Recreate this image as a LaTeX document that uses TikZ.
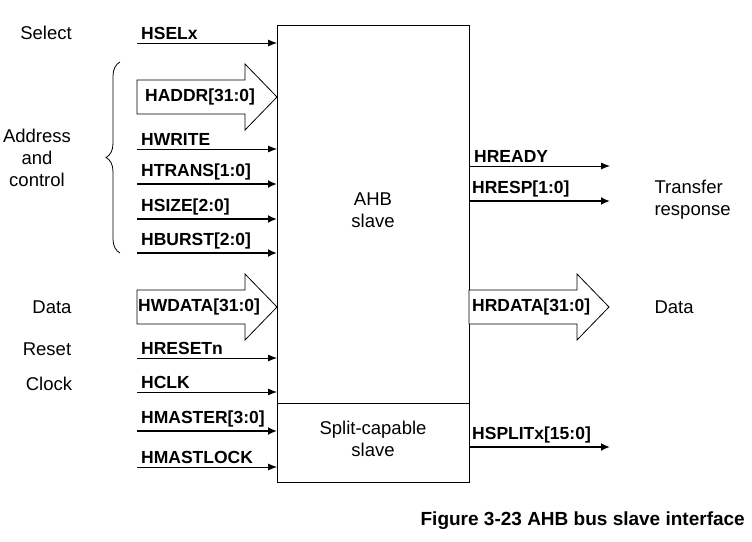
\documentclass[tikz,border=0pt]{standalone}
\usepackage{fontspec}
\setmainfont{Liberation Sans}
\usetikzlibrary{arrows.meta,decorations.pathreplacing}
\begin{document}
\begin{tikzpicture}[x=1pt,y=-1pt,
  thin sig/.style={line width=0.8pt,-{Latex[length=9pt,width=7pt]}},
  thick sig/.style={line width=2.6pt,-{Latex[length=9pt,width=8pt]}},
  sig/.style={font=\bfseries\fontsize{17.5}{20}\selectfont,anchor=south west,inner sep=1pt},
  lab/.style={font=\fontsize{18.5}{22}\selectfont,align=center},
  blk/.style={draw,line width=0.8pt,fill=white}]
\useasboundingbox (0,0) rectangle (752,541);
\node[draw,line width=0.8pt,minimum width=192pt,minimum height=457pt,anchor=north west,inner sep=0] (box) at (277,25) {};
\draw[line width=0.8pt] (277,403) -- (469,403);
\node[lab] (ahb) at (373,210) {AHB\\slave};
\node[lab] (split) at (373,439) {Split-capable\\slave};
% block arrows
\draw[blk] (137,80) -- (245,80) -- (245,64) -- (277,97) -- (245,130) -- (245,114) -- (137,114) -- cycle;
\draw[blk] (137,290) -- (245,290) -- (245,274) -- (277,307) -- (245,340) -- (245,324) -- (137,324) -- cycle;
\draw[blk] (469,290) -- (577,290) -- (577,274) -- (609,307) -- (577,340) -- (577,324) -- (469,324) -- cycle;
\node[sig,anchor=west] (haddr) at (144,97) {HADDR[31:0]};
\node[sig,anchor=west] (hwdata) at (137,307) {HWDATA[31:0]};
\node[sig,anchor=west] (hrdata) at (471,307) {HRDATA[31:0]};
% left signals
\coordinate (s1) at (137,43); \coordinate (e1) at (277,43);
\draw[thin sig] (s1) -- (e1); \node[sig] (hsel) at (140,41) {HSELx};
\coordinate (s2) at (137,149); \coordinate (e2) at (277,149);
\draw[thin sig] (s2) -- (e2); \node[sig] (hwrite) at (140,147) {HWRITE};
\coordinate (s3) at (137,184); \coordinate (e3) at (277,184);
\draw[thick sig] (s3) -- (e3); \node[sig] (htrans) at (140,181) {HTRANS[1:0]};
\coordinate (s4) at (137,219); \coordinate (e4) at (277,219);
\draw[thick sig] (s4) -- (e4); \node[sig] (hsize) at (140,216) {HSIZE[2:0]};
\coordinate (s5) at (137,253); \coordinate (e5) at (277,253);
\draw[thick sig] (s5) -- (e5); \node[sig] (hburst) at (140,250) {HBURST[2:0]};
\coordinate (s6) at (137,358); \coordinate (e6) at (277,358);
\draw[thin sig] (s6) -- (e6); \node[sig] (hreset) at (140,356) {HRESETn};
\coordinate (s7) at (137,392); \coordinate (e7) at (277,392);
\draw[thin sig] (s7) -- (e7); \node[sig] (hclk) at (140,390) {HCLK};
\coordinate (s8) at (137,431); \coordinate (e8) at (277,431);
\draw[thick sig] (s8) -- (e8); \node[sig] (hmaster) at (140,428) {HMASTER[3:0]};
\coordinate (s9) at (137,467); \coordinate (e9) at (277,467);
\draw[thin sig] (s9) -- (e9); \node[sig] (hmastlock) at (140,465) {HMASTLOCK};
% right signals
\coordinate (r1) at (469,166); \coordinate (f1) at (610,166);
\draw[thin sig] (r1) -- (f1); \node[sig] (hready) at (473,164) {HREADY};
\coordinate (r2) at (469,201); \coordinate (f2) at (610,201);
\draw[thick sig] (r2) -- (f2); \node[sig] (hresp) at (471,198) {HRESP[1:0]};
\coordinate (r3) at (469,447); \coordinate (f3) at (610,447);
\draw[thick sig] (r3) -- (f3); \node[sig] (hsplit) at (471,444) {HSPLITx[15:0]};
% side labels
\node[lab] (select) at (46,33) {Select};
\node[lab] (addr) at (37,158) {Address\\and\\control};
\node[lab] (data) at (52,307) {Data};
\node[lab] (reset) at (47,349) {Reset};
\node[lab] (clock) at (49,384) {Clock};
\node[lab,align=left,anchor=west] (tr) at (651,200) {Transfer\\response};
\node[lab,anchor=west] (data2) at (651,307) {Data};
\draw[line width=0.8pt,decorate,decoration={brace,amplitude=14pt}] (120,253) -- (120,62);
\node[font=\bfseries\fontsize{19}{22}\selectfont,anchor=east,inner sep=0] (cap) at (745,521) {Figure 3-23 AHB bus slave interface};
\end{tikzpicture}
\end{document}
